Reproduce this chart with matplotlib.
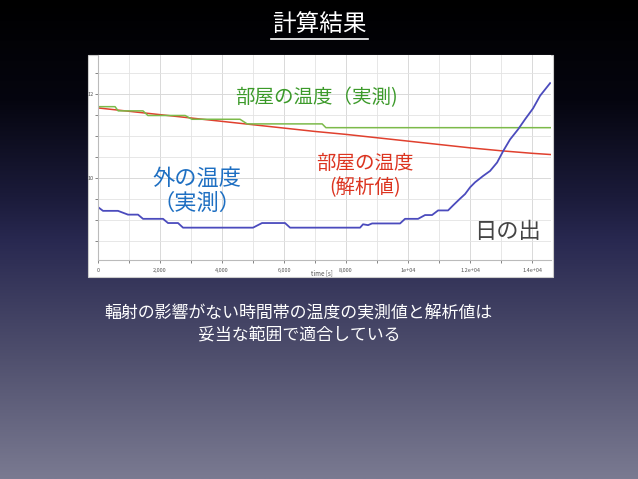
import numpy as np
import matplotlib
matplotlib.use("Agg")
import matplotlib.pyplot as plt
from matplotlib import ticker
from matplotlib.colors import LinearSegmentedColormap
from matplotlib.patches import Rectangle
from matplotlib.lines import Line2D

plt.rcParams['font.family'] = ['Noto Sans CJK JP', 'DejaVu Sans']

W, H = 638, 479

# room temperature, analytic (smooth)
red_t = [0, 1000, 2000, 3000, 4000, 5000, 6000, 7000, 8000, 9000, 10000,
         11000, 12000, 13000, 14000, 14610]
red_v = [11.67, 11.59, 11.51, 11.43, 11.35, 11.27, 11.19, 11.11, 11.04, 10.96,
         10.88, 10.80, 10.72, 10.65, 10.59, 10.56]

# room temperature, measured
green_t = [0, 550, 650, 1450, 1610, 2810, 3030, 4580, 4810, 7230, 7350, 14610]
green_v = [11.70, 11.70, 11.60, 11.60, 11.49, 11.49, 11.40, 11.40, 11.29, 11.29,
           11.20, 11.20]

# outside temperature, measured
blue_t = [0, 161, 645, 968, 1290, 1452, 2097, 2258, 2581, 2742, 5000, 5290,
          6032, 6194, 8452, 8548, 8710, 8839, 9742, 9903, 10323, 10548, 10774,
          10968, 11290, 11452, 11677, 11839, 12000, 12161, 12419, 12645, 12871,
          13065, 13290, 13548, 13774, 14032, 14258, 14581]
blue_v = [9.31, 9.22, 9.22, 9.13, 9.13, 9.03, 9.03, 8.93, 8.93, 8.82, 8.82, 8.93,
          8.93, 8.82, 8.82, 8.90, 8.88, 8.92, 8.92, 9.03, 9.03, 9.12, 9.12,
          9.23, 9.23, 9.35, 9.51, 9.62, 9.78, 9.90, 10.05, 10.17, 10.37,
          10.64, 10.92, 11.16, 11.40, 11.66, 11.96, 12.26]

x_ticks = [0, 2000, 4000, 6000, 8000, 10000, 12000, 14000]
x_labels = ['0', '2,000', '4,000', '6,000', '8,000', '1e+04', '1.2e+04', '1.4e+04']
y_ticks = [10, 12]


def fx(px):
    return px / W


def fy(py):
    return 1 - py / H


fig = plt.figure(figsize=(W / 100, H / 100), dpi=100)

# slide background gradient
bg = fig.add_axes([0, 0, 1, 1])
bg.set_axis_off()
cmap = LinearSegmentedColormap.from_list('slide', [
    (0.0, (0, 0, 0)),
    (0.21, (5 / 255, 5 / 255, 15 / 255)),
    (0.42, (28 / 255, 28 / 255, 60 / 255)),
    (0.5, (40 / 255, 40 / 255, 80 / 255)),
    (0.75, (80 / 255, 80 / 255, 110 / 255)),
    (1.0, (122 / 255, 122 / 255, 145 / 255)),
])
bg.imshow(np.linspace(0, 1, 256).reshape(-1, 1), aspect='auto', cmap=cmap,
          extent=[0, 1, 0, 1])
bg.set_xlim(0, 1)
bg.set_ylim(0, 1)

# white panel of the chart screenshot
fig.patches.append(Rectangle((fx(88), fy(277)), fx(553 - 88), (277 - 55) / H,
                             transform=fig.transFigure, facecolor='white',
                             edgecolor='#cccccc', linewidth=0.8, zorder=1))

ax = fig.add_axes([fx(98), fy(260), fx(551 - 98), (260 - 55) / H])
ax.set_facecolor('white')
ax.set_zorder(2)
ax.xaxis.set_minor_locator(ticker.MultipleLocator(1000))
ax.yaxis.set_minor_locator(ticker.MultipleLocator(0.5))
ax.grid(True, which='major', color='#d9d9d9', lw=0.7)
ax.grid(True, which='minor', color='#e3e3e3', lw=0.6)
ax.set_axisbelow(True)
ax.plot(red_t, red_v, color='#e0402e', lw=1.1)
ax.plot(green_t, green_v, color='#7cba4a', lw=1.1)
ax.plot(blue_t, blue_v, color='#4b4bbd', lw=1.3)

ax.set_xlim(0, 14610)
ax.set_ylim(8.05, 12.93)
ax.set_xticks(x_ticks)
ax.set_xticklabels(x_labels)
ax.set_yticks(y_ticks)
ax.tick_params(axis='both', which='both', labelsize=4, colors='#555555',
               length=2, width=0.5, pad=4)
ax.tick_params(axis='y', pad=1)
ax.set_xlabel('time [s]', fontsize=4.5, color='#555555', labelpad=0)
ax.xaxis.set_label_coords((322 - 98) / (551 - 98), -0.045)
for side in ['top', 'right']:
    ax.spines[side].set_visible(False)
for side in ['left', 'bottom']:
    ax.spines[side].set_color('#bbbbbb')
    ax.spines[side].set_linewidth(0.8)

# title
fig.text(fx(319.5), fy(25), '計算結果', color='white', fontsize=17,
         ha='center', va='center')
fig.add_artist(Line2D([fx(271), fx(368)], [fy(39), fy(39)], color='white',
                      lw=1.2, transform=fig.transFigure))

# annotations
fig.text(fx(316), fy(98), '部屋の温度（実測)', color='#3c9a2a', fontsize=14,
         ha='center', va='center', zorder=5)
fig.text(fx(197), fy(178), '外の温度', color='#1e6fc2', fontsize=16,
         ha='center', va='center', zorder=5)
fig.text(fx(197), fy(203), '（実測）', color='#1e6fc2', fontsize=16,
         ha='center', va='center', zorder=5)
fig.text(fx(365), fy(163), '部屋の温度', color='#dc3420', fontsize=14,
         ha='center', va='center', zorder=5)
fig.text(fx(365), fy(188), '(解析値)', color='#dc3420', fontsize=14,
         ha='center', va='center', zorder=5)
fig.text(fx(507), fy(232), '日の出', color='#444444', fontsize=16,
         ha='center', va='center', zorder=5)

# bottom message
fig.text(fx(298), fy(314), '輻射の影響がない時間帯の温度の実測値と解析値は',
         color='white', fontsize=12.2, ha='center', va='center')
fig.text(fx(299), fy(334), '妥当な範囲で適合している',
         color='white', fontsize=12.2, ha='center', va='center')

fig.savefig('out.png', dpi=100)
